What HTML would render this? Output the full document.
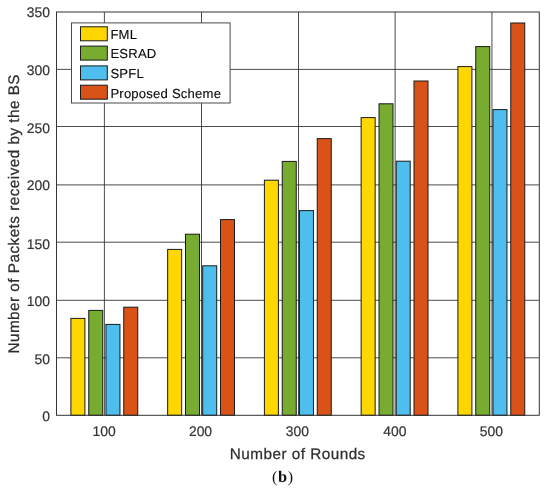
<!DOCTYPE html>
<html><head><meta charset="utf-8"><title>chart</title>
<style>html,body{margin:0;padding:0;background:#fff}svg{display:block}text{text-rendering:geometricPrecision;font-family:"Liberation Sans",Arial,Helvetica,sans-serif}.t{font-size:13.9px;fill:#333;stroke:#333;stroke-width:0.2px}.l{font-size:13.1px;letter-spacing:0.2px;fill:#0a0a0a;stroke:#0a0a0a;stroke-width:0.12px}.a{font-size:15.3px;letter-spacing:0.47px;fill:#2e2e2e;stroke:#2e2e2e;stroke-width:0.25px}.c{font-family:"Liberation Serif","Times New Roman",serif;font-size:16px;fill:#111}</style></head><body>
<svg width="550" height="490" viewBox="0 0 550 490">
<rect width="550" height="490" fill="#fff"/>
<g stroke="#2c2c2c" stroke-width="0.85" fill="none">
<line x1="56.5" x2="539.3" y1="69.4" y2="69.4"/>
<line x1="56.5" x2="539.3" y1="126.5" y2="126.5"/>
<line x1="56.5" x2="539.3" y1="184.9" y2="184.9"/>
<line x1="56.5" x2="539.3" y1="242.2" y2="242.2"/>
<line x1="56.5" x2="539.3" y1="300.3" y2="300.3"/>
<line x1="56.5" x2="539.3" y1="357.8" y2="357.8"/>
<line x1="104.4" x2="104.4" y1="12.0" y2="415.3"/>
<line x1="201.5" x2="201.5" y1="12.0" y2="415.3"/>
<line x1="298.5" x2="298.5" y1="12.0" y2="415.3"/>
<line x1="395.1" x2="395.1" y1="12.0" y2="415.3"/>
<line x1="491.95" x2="491.95" y1="12.0" y2="415.3"/>
</g>
<g stroke="#1a1a1a" stroke-width="1">
<rect x="70.90" y="318.40" width="14.00" height="96.90" fill="#FFD700"/>
<rect x="88.75" y="310.40" width="14.00" height="104.90" fill="#77AC30"/>
<rect x="105.95" y="324.40" width="14.00" height="90.90" fill="#4DBEEE"/>
<rect x="123.75" y="307.20" width="14.00" height="108.10" fill="#D95319"/>
<rect x="167.65" y="249.40" width="14.00" height="165.90" fill="#FFD700"/>
<rect x="185.50" y="234.20" width="14.00" height="181.10" fill="#77AC30"/>
<rect x="202.70" y="265.80" width="14.00" height="149.50" fill="#4DBEEE"/>
<rect x="220.50" y="219.60" width="14.00" height="195.70" fill="#D95319"/>
<rect x="264.40" y="180.20" width="14.00" height="235.10" fill="#FFD700"/>
<rect x="282.25" y="161.40" width="14.00" height="253.90" fill="#77AC30"/>
<rect x="299.45" y="210.60" width="14.00" height="204.70" fill="#4DBEEE"/>
<rect x="317.25" y="138.60" width="14.00" height="276.70" fill="#D95319"/>
<rect x="361.15" y="117.60" width="14.00" height="297.70" fill="#FFD700"/>
<rect x="379.00" y="103.80" width="14.00" height="311.50" fill="#77AC30"/>
<rect x="396.20" y="161.20" width="14.00" height="254.10" fill="#4DBEEE"/>
<rect x="414.00" y="81.00" width="14.00" height="334.30" fill="#D95319"/>
<rect x="457.90" y="66.60" width="14.00" height="348.70" fill="#FFD700"/>
<rect x="475.75" y="46.60" width="14.00" height="368.70" fill="#77AC30"/>
<rect x="492.95" y="109.60" width="14.00" height="305.70" fill="#4DBEEE"/>
<rect x="510.75" y="23.00" width="14.00" height="392.30" fill="#D95319"/>
</g>
<rect x="56.5" y="12.0" width="482.79999999999995" height="403.3" fill="none" stroke="#333" stroke-width="1"/>
<text class="t" x="50" y="17.4" text-anchor="end">350</text>
<text class="t" x="50" y="74.5" text-anchor="end">300</text>
<text class="t" x="50" y="133.0" text-anchor="end">250</text>
<text class="t" x="50" y="190.4" text-anchor="end">200</text>
<text class="t" x="50" y="248.7" text-anchor="end">150</text>
<text class="t" x="50" y="306.3" text-anchor="end">100</text>
<text class="t" x="50" y="364.4" text-anchor="end">50</text>
<text class="t" x="50" y="421.4" text-anchor="end">0</text>
<text class="t" x="104.1" y="436.2" text-anchor="middle">100</text>
<text class="t" x="200.5" y="436.2" text-anchor="middle">200</text>
<text class="t" x="297.3" y="436.2" text-anchor="middle">300</text>
<text class="t" x="394.8" y="436.2" text-anchor="middle">400</text>
<text class="t" x="491.3" y="436.2" text-anchor="middle">500</text>
<text class="a" x="297.8" y="458.8" text-anchor="middle">Number of Rounds</text>
<text class="a" transform="translate(19,213.8) rotate(-90)" text-anchor="middle">Number of Packets received by the BS</text>
<text class="c" x="282.9" y="481.6" text-anchor="middle" letter-spacing="0.7">(<tspan font-weight="bold" font-size="16.4">b</tspan>)</text>
<rect x="71.5" y="22.9" width="158.6" height="80.1" fill="#fff" stroke="#4a4a4a" stroke-width="1"/>
<rect x="80.5" y="26.8" width="26.8" height="14.0" fill="#FFD700" stroke="#1a1a1a" stroke-width="1"/>
<text class="l" x="110.4" y="38.6">FML</text>
<rect x="80.5" y="46.1" width="26.8" height="14.0" fill="#77AC30" stroke="#1a1a1a" stroke-width="1"/>
<text class="l" x="110.4" y="58.4">ESRAD</text>
<rect x="80.5" y="65.9" width="26.8" height="14.0" fill="#4DBEEE" stroke="#1a1a1a" stroke-width="1"/>
<text class="l" x="110.4" y="77.8">SPFL</text>
<rect x="80.5" y="85.2" width="26.8" height="14.0" fill="#D95319" stroke="#1a1a1a" stroke-width="1"/>
<text class="l" x="110.4" y="97.7">Proposed Scheme</text>
</svg></body></html>
